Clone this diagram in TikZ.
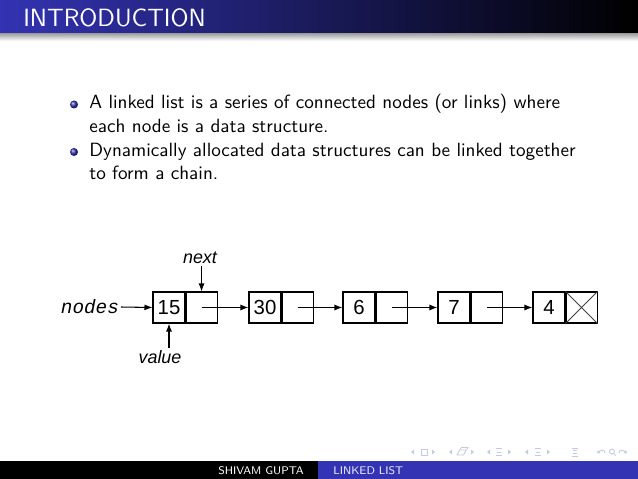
\documentclass[tikz,border=0pt]{standalone}
\usepackage{fontspec}
\usepackage{tikz}
\usetikzlibrary{arrows.meta,positioning}
\newfontfamily\arialfont{Liberation Sans}
\newfontfamily\courierfont{Liberation Mono}
\definecolor{beamerblue}{RGB}{51,51,179}
\definecolor{navgray}{RGB}{200,200,228}
\tikzset{
  cell/.style={draw, line width=0.6pt, minimum height=0.62cm, inner sep=0pt,
    font=\arialfont\fontsize{11.6}{13}\selectfont},
  valcell/.style={cell, minimum width=0.64cm},
  ptrcell/.style={cell, minimum width=0.62cm},
  link/.style={-{Latex[length=1.6mm,width=1.2mm]}, line width=0.6pt},
  tag/.style={font=\arialfont\itshape\fontsize{10.2}{12}\selectfont, inner sep=1pt},
  bodytext/.style={anchor=base west, inner sep=0pt, font=\sffamily\fontsize{10.9}{13}\selectfont},
  navsym/.style={navgray, line width=0.5pt}
}

\begin{document}
\begin{tikzpicture}[x=0.02cm, y=-0.02cm]
    \useasboundingbox (0,0) rectangle (638,479);
    % title bar
    \shade[left color=beamerblue, right color=black] (0,0) rectangle (638,34);
    \shade[top color=black!35, bottom color=white] (0,34) rectangle (638,41);
    \node[anchor=west, inner sep=0pt, text=white, font=\sffamily\fontsize{14.2}{16}\selectfont] (title) at (23,18) {INTRODUCTION};

    % bullets
    \shade[ball color=beamerblue] (74,104.5) circle[radius=0.08cm];
    \shade[ball color=beamerblue] (74,152) circle[radius=0.08cm];
    \node[bodytext] (line1) at (89,109) {A linked list is a series of connected nodes (or links) where};
    \node[bodytext] (line2) at (89,132.5) {each node is a data structure.};
    \node[bodytext] (line3) at (89,156.5) {Dynamically allocated data structures can be linked together};
    \node[bodytext] (line4) at (89,179.5) {to form a chain.};

    % linked list
    \node[valcell] (v1) at (169,307.5) {15};
    \node[ptrcell, right=0pt of v1] (p1) {};
    \node[valcell] (v2) at (265,307.5) {30};
    \node[ptrcell, right=0pt of v2] (p2) {};
    \node[valcell] (v3) at (359,307.5) {6};
    \node[ptrcell, right=0pt of v3] (p3) {};
    \node[valcell] (v4) at (454,307.5) {7};
    \node[ptrcell, right=0pt of v4] (p4) {};
    \node[valcell] (v5) at (549,307.5) {4};
    \node[ptrcell, right=0pt of v5] (p5) {};
    \draw[line width=0.5pt, black!75] (p5.north west) -- (p5.south east) (p5.south west) -- (p5.north east);

    \draw[link] (p1.center) -- (v2.west);
    \draw[link] (p2.center) -- (v3.west);
    \draw[link] (p3.center) -- (v4.west);
    \draw[link] (p4.center) -- (v5.west);

    \node[anchor=east, inner sep=1pt, font=\courierfont\itshape\fontsize{11}{13}\selectfont] (nodes) at (121,307) {nodes};
    \draw[link] (nodes.east) -- (v1.west);
    \node[tag] (next) at (200,258) {next};
    \draw[link] (next.south -| p1.center) -- (p1.north);
    \node[tag] (value) at (160,357) {value};
    \draw[link] (value.north -| v1.center) -- (v1.south);

    % navigation symbols
    \begin{scope}[navsym]
      \fill (411,452) -- (414,449.5) -- (414,454.5) -- cycle;
      \draw (421,449) rectangle (427,455);
      \fill (435,452) -- (432,449.5) -- (432,454.5) -- cycle;
      \fill (449,452) -- (452,449.5) -- (452,454.5) -- cycle;
      \draw (457,455) -- (459.5,450) -- (466,450) -- (463.5,455) -- cycle;
      \draw (460,449.5) -- (461.5,447.5) -- (468,447.5) -- (466.5,449.5);
      \fill (474,452) -- (471,449.5) -- (471,454.5) -- cycle;
      \fill (487,452) -- (490,449.5) -- (490,454.5) -- cycle;
      \draw (496,448.5) -- (502,448.5) (497,452) -- (501,452) (496,455.5) -- (502,455.5);
      \fill (511,452) -- (508,449.5) -- (508,454.5) -- cycle;
      \fill (525,452) -- (528,449.5) -- (528,454.5) -- cycle;
      \draw (535,448.5) -- (541,448.5) (536,452) -- (540,452) (535,455.5) -- (541,455.5);
      \fill (550,452) -- (547,449.5) -- (547,454.5) -- cycle;
      \draw (572,448) -- (578,448) (573,450.5) -- (577,450.5) (573,453.5) -- (577,453.5) (572,456) -- (578,456);
      \draw[-{Latex[length=0.6mm,width=0.8mm]}] (605,453) arc[start angle=0, end angle=200, radius=0.06cm];
      \draw (612,451.5) circle[radius=0.05cm] (613.5,453.5) -- (615.5,455.5);
      \draw[-{Latex[length=0.6mm,width=0.8mm]}] (619,453) arc[start angle=180, end angle=-20, radius=0.06cm];
    \end{scope}

    % footer
    \fill[black] (0,461) rectangle (318,479);
    \fill[beamerblue] (318,461) rectangle (638,479);
    \node[anchor=east, inner sep=0pt, text=white, font=\sffamily\fontsize{6.3}{8}\selectfont] (author) at (304,470.5) {SHIVAM GUPTA};
    \node[anchor=west, inner sep=0pt, text=white!90!beamerblue, font=\sffamily\fontsize{6.3}{8}\selectfont] (short) at (333,470.5) {LINKED LIST};
\end{tikzpicture}
\end{document}
